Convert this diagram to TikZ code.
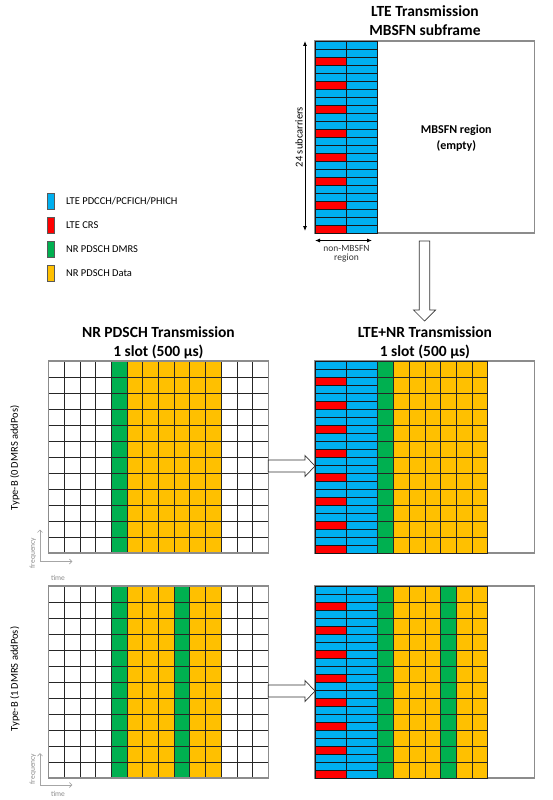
\documentclass[tikz,border=0pt]{standalone}
\usepackage{fontspec}
\setmainfont{Carlito}
\usepackage{tikz}
\usetikzlibrary{positioning,calc,arrows.meta}
\definecolor{ltecol}{HTML}{00B0F0}
\definecolor{crscol}{HTML}{FF0000}
\definecolor{dmrscol}{HTML}{00B050}
\definecolor{datacol}{HTML}{FFC000}
\definecolor{framecol}{HTML}{8C8C8C}
\tikzset{
    lte-cell/.style = {draw=black!90, fill=ltecol, line width=0.8pt},
    crs-cell/.style = {draw=black!90, fill=crscol, line width=0.8pt},
    dmrs-cell/.style = {draw=black!85, fill=dmrscol, line width=0.8pt},
    data-cell/.style = {draw=black!85, fill=datacol, line width=0.8pt},
    nr-cell/.style = {draw=black!85, fill=white, line width=0.8pt},
    grid-frame/.style = {draw=framecol, line width=1.1pt},
    grid-title/.style = {font=\fontsize{15.5}{19}\selectfont\bfseries, align=center},
    region-label/.style = {font=\fontsize{12}{15.5}\selectfont\bfseries, align=center},
    side-label/.style = {font=\fontsize{10.5}{12}\selectfont, rotate=90},
    small-label/.style = {font=\fontsize{9.5}{9}\selectfont, align=center, text=black!80},
    legend-box/.style = {draw=black!65, line width=0.8pt, minimum width=7pt, minimum height=16pt, inner sep=0pt},
    legend-text/.style = {font=\fontsize{10.5}{12}\selectfont, inner sep=1pt},
    block-arrow/.style = {draw=black!80, fill=white, line width=0.7pt, line join=miter},
    span-arrow/.style = {{Latex[length=5pt,width=4pt]}-{Latex[length=5pt,width=4pt]}, line width=0.8pt},
    axis-arrow/.style = {-{Straight Barb[length=2.5pt,width=5pt]}, draw=black!35, line width=0.7pt},
    axis-label/.style = {font=\fontsize{7.5}{9}\selectfont, text=black!45, inner sep=0pt},
}
% style of NR cell in column #1, with an extra DMRS column #2
\newcommand\nrcellstyle[2]{%
  \def\cellstyle{nr-cell}%
  \ifnum#1>4 \ifnum#1<11 \def\cellstyle{data-cell}\fi\fi
  \ifnum#1=4 \def\cellstyle{dmrs-cell}\fi
  \ifnum#1=#2 \def\cellstyle{dmrs-cell}\fi
}
\begin{document}
\begin{tikzpicture}[x=1pt,y=-1pt]
\useasboundingbox (0,0) rectangle (552,800);

% titles
\node[grid-title] (sf-title) at (424.9,21) {LTE Transmission\\MBSFN subframe};
\node[grid-title] (nr-title) at (158.4,342.5) {NR PDSCH Transmission\\1 slot (500 µs)};
\node[grid-title] (mix-title) at (424.9,342.5) {LTE+NR Transmission\\1 slot (500 µs)};

% legend
\node[legend-box, fill=ltecol] (leg-lte) at (51,201) {};
\node[legend-box, fill=crscol] (leg-crs) at (51,225) {};
\node[legend-box, fill=dmrscol] (leg-dmrs) at (51,249) {};
\node[legend-box, fill=datacol] (leg-data) at (51,273) {};
\node[legend-text, right=10pt of leg-lte] (leg-lte-text) {LTE PDCCH/PCFICH/PHICH};
\node[legend-text, right=10pt of leg-crs] (leg-crs-text) {LTE CRS};
\node[legend-text, right=10pt of leg-dmrs] (leg-dmrs-text) {NR PDSCH DMRS};
\node[legend-text, right=10pt of leg-data] (leg-data-text) {NR PDSCH Data};

% frames of the grids with LTE control region
\foreach \t in {41,361,586}
  \draw[grid-frame] (315,\t) rectangle ++(219.8,192);
% LTE control region with CRS
\foreach \t in {41,361,586} {
  \foreach \r in {0,...,23} {
    \draw[lte-cell] (315,{\t+8*\r}) rectangle ++(31.4,8);
    \draw[lte-cell] (346.4,{\t+8*\r}) rectangle ++(31.4,8);
  }
  \foreach \r in {2,5,...,23}
    \draw[crs-cell] (315,{\t+8*\r}) rectangle ++(31.4,8);
}
\node[region-label] (mbsfn-label) at (456.3,138) {MBSFN region\\(empty)};

% subcarriers and non-MBSFN spans
\coordinate (sc-top) at (305,41);
\coordinate (sc-bot) at (305,231);
\draw[span-arrow] (sc-top) -- (sc-bot);
\node[side-label] (sc-label) at (299,137) {24 subcarriers};
\coordinate (ctrl-w) at (315,240.5);
\coordinate (ctrl-e) at (372,240.5);
\draw[span-arrow] (ctrl-w) -- (ctrl-e);
\node[small-label] (ctrl-label) at (346.5,254) {non-MBSFN\\region};

% NR slots and the LTE+NR slots
\foreach \t/\extra/\n/\ly/\ay/\fy/\ty [count=\g] in
    {361/-1/0/458/561.5/553/577.5, 586/8/1/679/785/769/794} {
  \foreach \c in {0,...,13} {
    \nrcellstyle{\c}{\extra}
    \foreach \r in {0,...,11}
      \draw[\cellstyle] ({48.5+15.7*\c},{\t+16*\r}) rectangle ++(15.7,16);
  }
  \foreach \c in {4,...,10} {
    \nrcellstyle{\c}{\extra}
    \foreach \r in {0,...,11}
      \draw[\cellstyle] ({315+15.7*\c},{\t+16*\r}) rectangle ++(15.7,16);
  }
  \draw[grid-frame] (48.5,\t) rectangle ++(219.8,192);
  \node[side-label] (type\g) at (15,\ly) {Type-B (\n\ DMRS addPos)};
  % time / frequency axes
  \coordinate (ax\g) at (40,\ay);
  \coordinate (ax\g-f) at (40,\ay-32);
  \coordinate (ax\g-t) at (72.3,\ay);
  \draw[axis-arrow] (ax\g) -- (ax\g-f);
  \draw[axis-arrow] (ax\g) -- (ax\g-t);
  \node[axis-label, rotate=90] (freq\g) at (33,\fy) {frequency};
  \node[axis-label] (time\g) at (58,\ty) {time};
  % block arrow into the LTE+NR slot
  \coordinate (nr\g-e) at (268.3,\t+105);
  \coordinate (mix\g-w) at (315,\t+105);
  \draw[block-arrow] ($(nr\g-e)+(0,-6)$) -- ($(mix\g-w)+(-10,-6)$) -- ($(mix\g-w)+(-10,-10.5)$)
    -- (mix\g-w) -- ($(mix\g-w)+(-10,10.5)$) -- ($(mix\g-w)+(-10,6)$) -- ($(nr\g-e)+(0,6)$) -- cycle;
}

% from the MBSFN subframe down to the LTE+NR slot
\coordinate (sf-s) at (424.5,241);
\coordinate (mix-n) at (424.5,321);
\draw[block-arrow] ($(sf-s)+(-5.3,0)$) -- ($(mix-n)+(-5.3,-11)$) -- ($(mix-n)+(-11,-11)$)
  -- (mix-n) -- ($(mix-n)+(11,-11)$) -- ($(mix-n)+(5.3,-11)$) -- ($(sf-s)+(5.3,0)$) -- cycle;
\end{tikzpicture}
\end{document}
